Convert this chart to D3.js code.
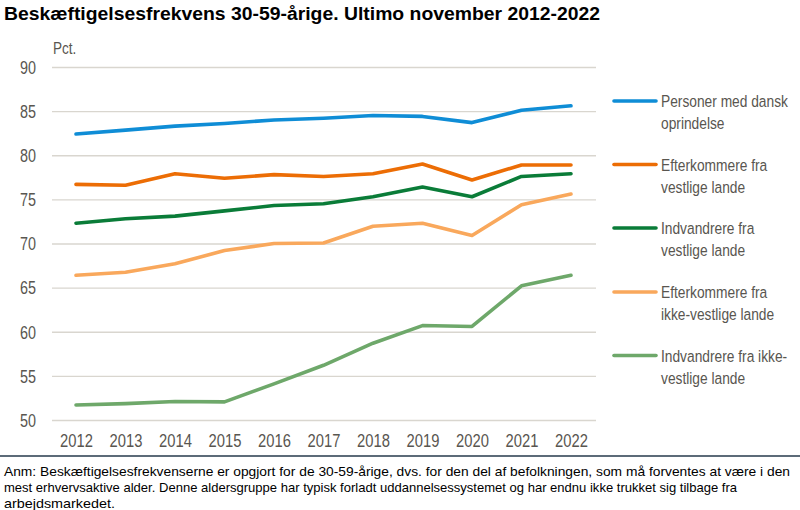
<!DOCTYPE html>
<html>
<head>
<meta charset="utf-8">
<script src="https://cdn.jsdelivr.net/npm/d3@7.9.0/dist/d3.min.js"></script>
<style>
  html, body { margin: 0; padding: 0; background: #fff; }
  svg { display: block; }
  .narrow, .tick text { font-family: "Liberation Sans", Arial, sans-serif; fill: #595650; }
</style>
</head>
<body>
<svg id="chart" width="800" height="510"></svg>
<script>
// data
const years = [2012, 2013, 2014, 2015, 2016, 2017, 2018, 2019, 2020, 2021, 2022];
const dansk = [82.4, 82.85, 83.3, 83.6, 84.0, 84.2, 84.5, 84.4, 83.7, 85.1, 85.6];
const efterVestlige = [76.7, 76.6, 77.9, 77.4, 77.8, 77.6, 77.9, 79.0, 77.2, 78.9, 78.9];
const indvVestlige = [72.3, 72.8, 73.1, 73.7, 74.3, 74.5, 75.3, 76.4, 75.3, 77.6, 77.9];
const efterIkkeVestlige = [66.4, 66.75, 67.7, 69.2, 70.0, 70.05, 71.95, 72.3, 70.9, 74.4, 75.6];
const indvIkkeVestlige = [51.7, 51.85, 52.1, 52.05, 54.1, 56.2, 58.7, 60.7, 60.6, 65.2, 66.4];

const seriesLabels = [
  ['Personer med dansk', 'oprindelse'],
  ['Efterkommere fra', 'vestlige lande'],
  ['Indvandrere fra', 'vestlige lande'],
  ['Efterkommere fra', 'ikke-vestlige lande'],
  ['Indvandrere fra ikke-', 'vestlige lande']
];
const seriesColors = ['#0f8dd6', '#ec6d05', '#0a7c38', '#f9a85c', '#6ea86a'];
const yTicks = [50, 55, 60, 65, 70, 75, 80, 85, 90];

const title = 'Beskæftigelsesfrekvens 30-59-årige. Ultimo november 2012-2022';
const noteLines = [
  'Anm: Beskæftigelsesfrekvenserne er opgjort for de 30-59-årige, dvs. for den del af befolkningen, som må forventes at være i den',
  'mest erhvervsaktive alder. Denne aldersgruppe har typisk forladt uddannelsessystemet og har endnu ikke trukket sig tilbage fra',
  'arbejdsmarkedet.'
];

const series = [dansk, efterVestlige, indvVestlige, efterIkkeVestlige, indvIkkeVestlige];

const svg = d3.select('#chart');

// no narrow font installed, so squeeze the regular one
function narrow(sel, factor) {
  sel.each(function () {
    const w = this.getComputedTextLength();
    d3.select(this).attr('textLength', w * factor).attr('lengthAdjust', 'spacingAndGlyphs');
  });
}

// scales
const x = d3.scaleLinear().domain([2012, 2022]).range([76, 571]);
const y = d3.scaleLinear().domain([50, 90]).range([420, 67]);

// title
svg.append('text')
  .attr('x', 4).attr('y', 20)
  .attr('font-family', '"Liberation Sans", Arial, sans-serif')
  .attr('font-weight', 'bold')
  .attr('font-size', 18)
  .attr('fill', '#000')
  .attr('textLength', 596)
  .attr('lengthAdjust', 'spacingAndGlyphs')
  .text(title);

// y axis with gridlines
const yAxis = svg.append('g')
  .attr('transform', 'translate(52,0)')
  .call(d3.axisLeft(y).tickValues(yTicks).tickSize(-544).tickPadding(16));
yAxis.select('.domain').remove();
yAxis.selectAll('.tick line').attr('stroke', '#d9d6cf').attr('stroke-width', 1.3);
yAxis.selectAll('.tick text').attr('font-size', 17.5).attr('dy', '0.36em');
narrow(yAxis.selectAll('.tick text'), 0.82);

// x axis labels
const xAxis = svg.append('g')
  .attr('transform', 'translate(0,420)')
  .call(d3.axisBottom(x).tickValues(years).tickFormat(d3.format('d')).tickSize(0).tickPadding(14));
xAxis.select('.domain').remove();
xAxis.selectAll('.tick text').attr('font-size', 18);
narrow(xAxis.selectAll('.tick text'), 0.82);

// unit label
svg.append('text')
  .attr('class', 'narrow')
  .attr('x', 53).attr('y', 54)
  .attr('font-size', 16.5)
  .text('Pct.')
  .call(narrow, 0.82);

// lines
const line = d3.line()
  .x((d, i) => x(years[i]))
  .y(d => y(d));

series.forEach((s, i) => {
  svg.append('path')
    .datum(s)
    .attr('d', line)
    .attr('fill', 'none')
    .attr('stroke', seriesColors[i])
    .attr('stroke-width', 3.6)
    .attr('stroke-linejoin', 'round')
    .attr('stroke-linecap', 'round');
});

// legend (text squeezed with a transform so its box stays inside the page)
const legendY = [101, 164.5, 228, 292, 355.5];
seriesLabels.forEach((lbl, i) => {
  const g = svg.append('g').attr('transform', `translate(0,${legendY[i]})`);
  g.append('line')
    .attr('x1', 614).attr('x2', 656)
    .attr('stroke', seriesColors[i])
    .attr('stroke-width', 3.6)
    .attr('stroke-linecap', 'round');
  lbl.forEach((t, j) => {
    g.append('text')
      .attr('class', 'narrow')
      .attr('transform', `translate(661,${6 + j * 22}) scale(0.81,1)`)
      .attr('font-size', 17)
      .text(t);
  });
});

// separator and note
svg.append('line')
  .attr('x1', 0).attr('x2', 800)
  .attr('y1', 456).attr('y2', 456)
  .attr('stroke', '#5c6b78')
  .attr('stroke-width', 2);

const noteWidths = [786, 733, 111];
noteLines.forEach((t, i) => {
  svg.append('text')
    .attr('x', 4).attr('y', 475.5 + i * 16)
    .attr('font-family', '"Liberation Sans", Arial, sans-serif')
    .attr('font-size', 12.8)
    .attr('fill', '#000')
    .attr('textLength', noteWidths[i])
    .attr('lengthAdjust', 'spacingAndGlyphs')
    .text(t);
});
</script>
</body>
</html>
